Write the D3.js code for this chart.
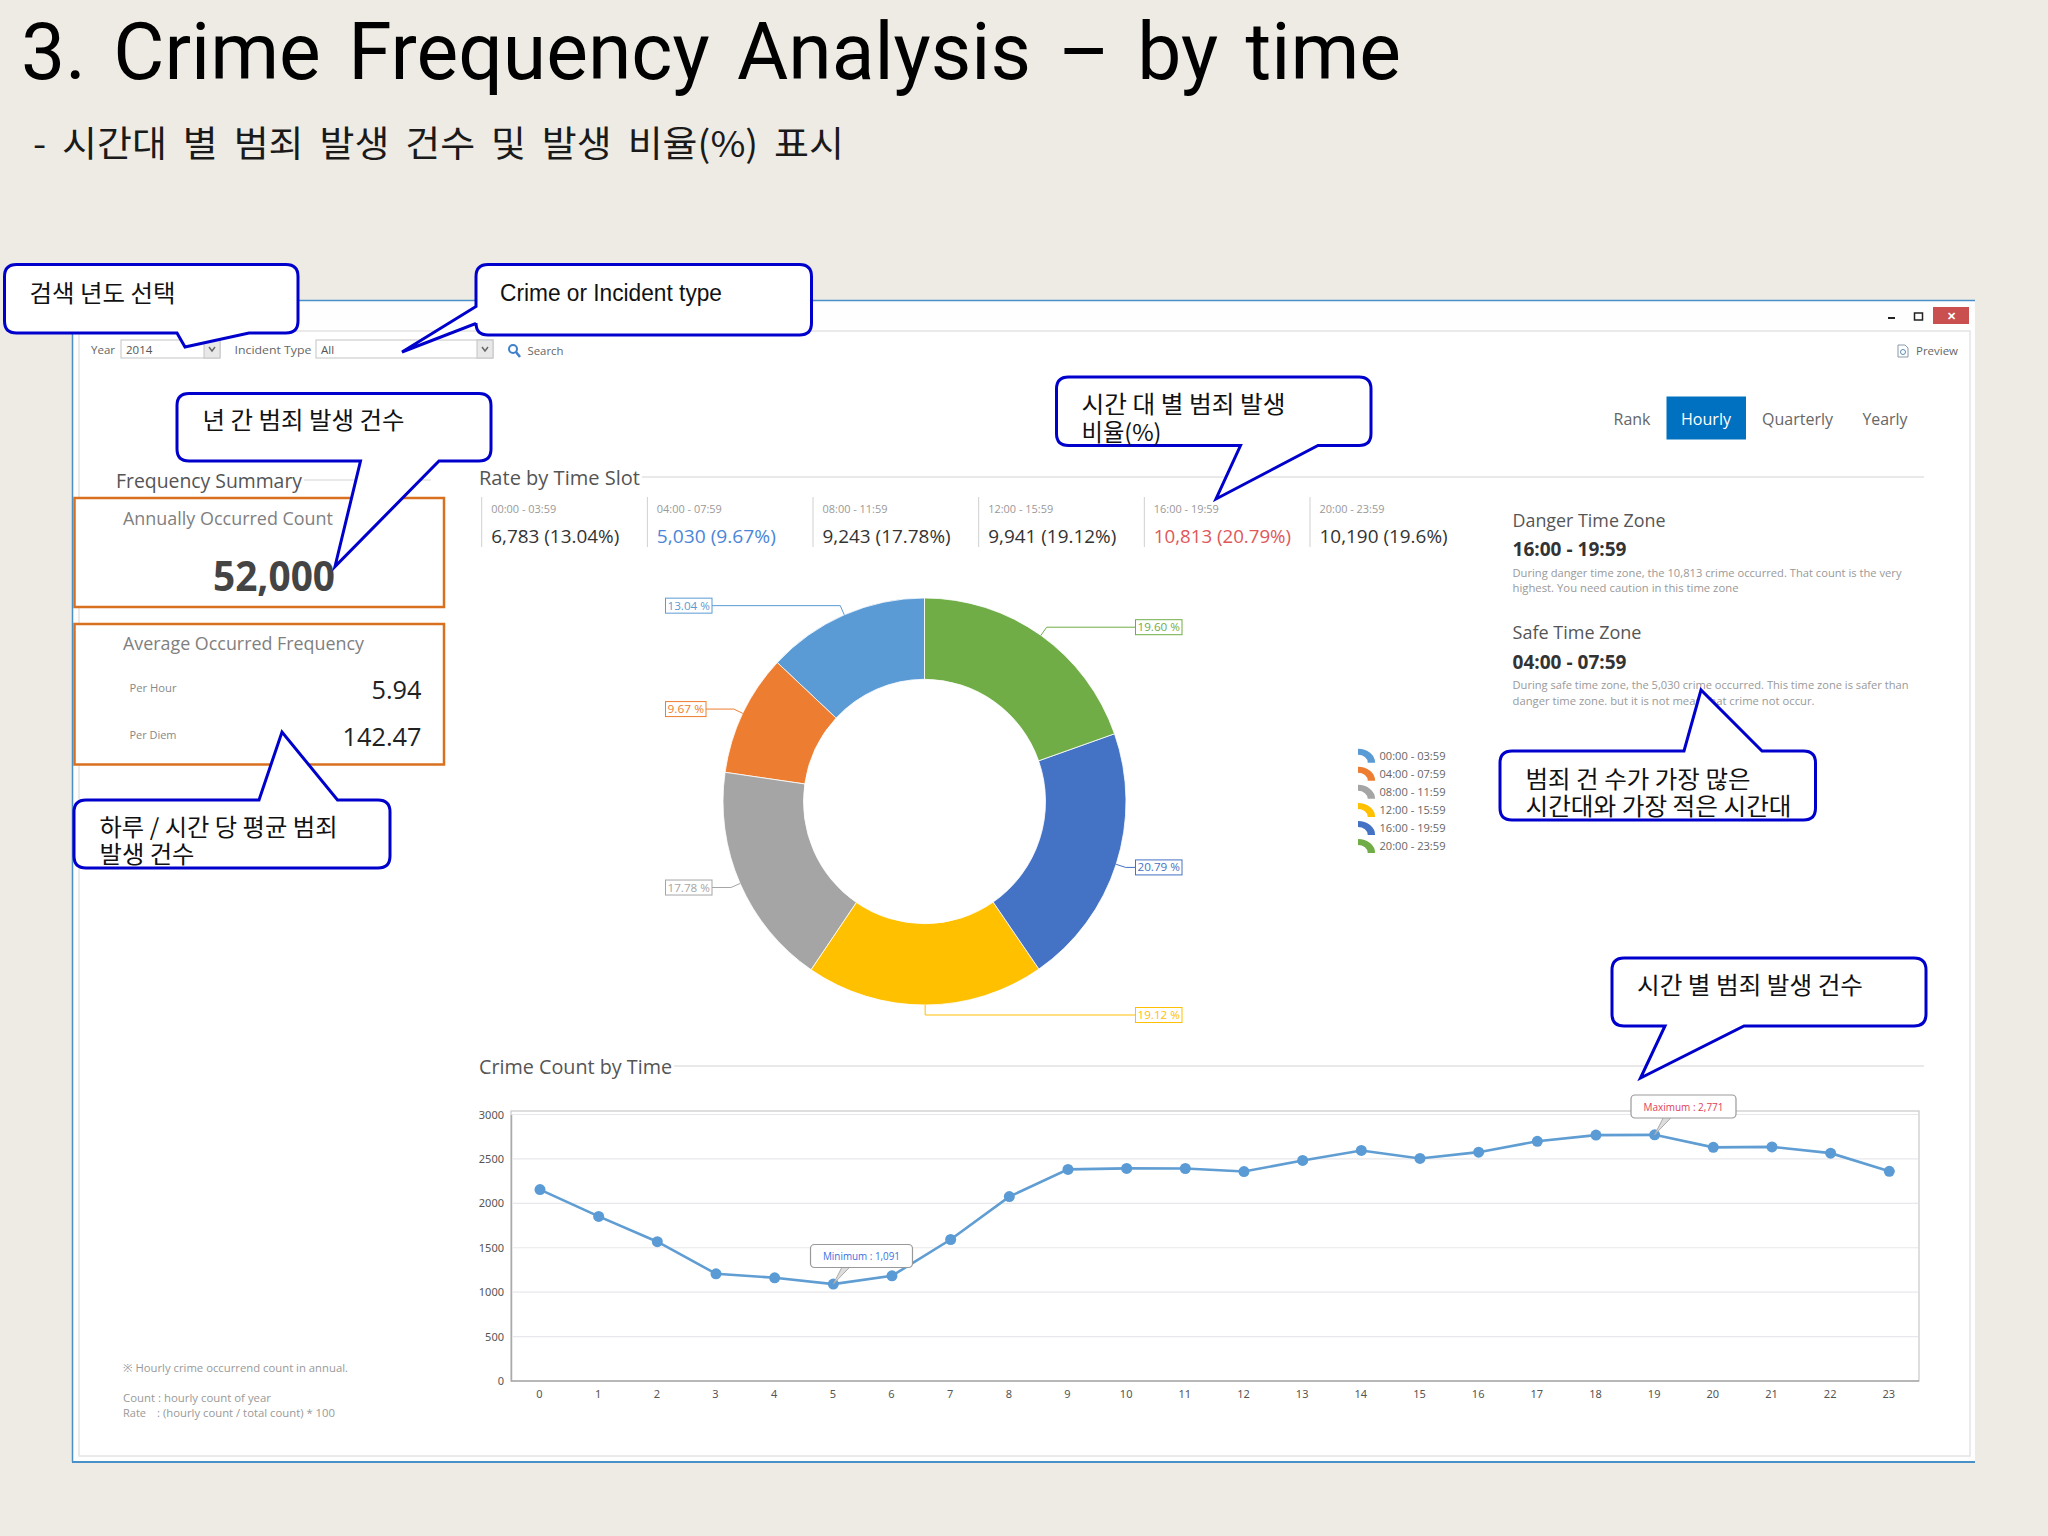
<!DOCTYPE html>
<html>
<head>
<meta charset="utf-8">
<style>
    html, body { margin: 0; padding: 0; background: #eeebe4; }
    svg { display: block; }
    text { font-family: "Open Sans", "Noto Sans", "Noto Sans CJK KR", sans-serif; }
    .ko { font-family: "Noto Sans CJK KR", sans-serif; }
    .arial { font-family: "Liberation Sans", sans-serif; }
    .slim { font-family: "Noto Sans", "Open Sans", sans-serif; }
    .head { font-family: Roboto, "Open Sans", sans-serif; }
</style>
<script src="https://cdn.jsdelivr.net/npm/d3@7/dist/d3.min.js"></script>
</head>
<body>
<svg id="chart" width="2048" height="1536"></svg>
<script>
// values
const slotLabels = ['00:00 - 03:59', '04:00 - 07:59', '08:00 - 11:59', '12:00 - 15:59', '16:00 - 19:59', '20:00 - 23:59'];
const slotCounts = [6783, 5030, 9243, 9941, 10813, 10190];
const slotRates = [13.04, 9.67, 17.78, 19.12, 20.79, 19.60];
const slotColors = ['#5b9bd5', '#ed7d31', '#a5a5a5', '#ffc000', '#4472c4', '#70ad47'];

const hours = d3.range(24);
const hourlyCounts = [2155, 1853, 1568, 1207, 1162, 1091, 1184, 1593, 2076, 2382, 2393, 2392,
    2358, 2483, 2595, 2505, 2576, 2698, 2768, 2771, 2630, 2635, 2565, 2360];
const yTicks = [0, 500, 1000, 1500, 2000, 2500, 3000];
const navItems = ['Rank', 'Hourly', 'Quarterly', 'Yearly'];

const svg = d3.select('#chart');
const fmt = d3.format(',');

function label(parent, x, y, str, opts = {}) {
    const t = parent.append('text')
        .attr('x', x)
        .attr('y', y)
        .attr('font-size', opts.size || 12)
        .attr('fill', opts.fill || '#333')
        .attr('text-anchor', opts.anchor || 'start')
        .text(str);
    if (opts.cls) t.attr('class', opts.cls);
    if (opts.weight) t.attr('font-weight', opts.weight);
    if (opts.wordGap) t.attr('word-spacing', opts.wordGap);
    if (opts.width) t.attr('textLength', opts.width).attr('lengthAdjust', 'spacingAndGlyphs');
    return t;
}

function hline(parent, x0, x1, y, color, w = 1) {
    parent.append('line').attr('x1', x0).attr('x2', x1).attr('y1', y).attr('y2', y)
        .attr('stroke', color).attr('stroke-width', w);
}

// ---- slide heading
label(svg, 21, 79, '3. Crime Frequency Analysis – by time', { size: 80, fill: '#000', cls: 'head', width: 1380, wordGap: 8 });
label(svg, 33, 157, '- 시간대 별 범죄 발생 건수 및 발생 비율(%) 표시', { size: 36, fill: '#1a1a1a', cls: 'ko', width: 811, wordGap: 7 });

// ---- application window
svg.append('rect').attr('x', 72).attr('y', 300).attr('width', 1903).attr('height', 1162).attr('fill', '#fefefe');
hline(svg, 72, 1975, 300.5, '#4a90c8', 1.5);
hline(svg, 72, 1975, 1462, '#4a90c8', 2);
svg.append('line').attr('x1', 72.5).attr('x2', 72.5).attr('y1', 300).attr('y2', 1462)
    .attr('stroke', '#4a90c8').attr('stroke-width', 1.5);
svg.append('rect').attr('x', 79).attr('y', 331).attr('width', 1891).attr('height', 1125)
    .attr('fill', '#fff').attr('stroke', '#e4e4e4').attr('stroke-width', 1.5);

svg.append('rect').attr('x', 1933).attr('y', 307).attr('width', 36).attr('height', 17).attr('fill', '#c9504f');
label(svg, 1951, 320, '✕', { size: 11, fill: '#fff', anchor: 'middle', weight: 'bold', cls: 'slim' });
svg.append('rect').attr('x', 1888).attr('y', 317).attr('width', 7).attr('height', 2).attr('fill', '#222');
svg.append('rect').attr('x', 1914.5).attr('y', 313).attr('width', 8).attr('height', 7)
    .attr('fill', 'none').attr('stroke', '#222').attr('stroke-width', 1.5);

// ---- toolbar
function combo(x0, x1, str) {
    svg.append('rect').attr('x', x0).attr('y', 340).attr('width', x1 - x0).attr('height', 18)
        .attr('fill', '#fff').attr('stroke', '#c4c4c4');
    svg.append('rect').attr('x', x1 - 16).attr('y', 340).attr('width', 16).attr('height', 18)
        .attr('fill', '#e8e8e8').attr('stroke', '#c4c4c4');
    svg.append('path').attr('d', `M${x1 - 11},347 l3,4 l3,-4`).attr('fill', 'none').attr('stroke', '#666').attr('stroke-width', 1.5);
    label(svg, x0 + 5, 354, str, { size: 11.5, fill: '#555' });
}
label(svg, 91, 354, 'Year', { size: 11.5, fill: '#666' });
combo(121, 220, '2014');
label(svg, 234.5, 354, 'Incident Type', { size: 11.5, fill: '#666', width: 77 });
combo(316, 493, 'All');
svg.append('circle').attr('cx', 513).attr('cy', 349).attr('r', 4).attr('fill', 'none').attr('stroke', '#3f80c8').attr('stroke-width', 2);
svg.append('line').attr('x1', 516).attr('y1', 352).attr('x2', 520).attr('y2', 357).attr('stroke', '#3f80c8').attr('stroke-width', 2.5);
label(svg, 527.5, 355, 'Search', { size: 11.5, fill: '#666', width: 36 });
svg.append('path').attr('d', 'M1898,345 h7 l3,3 v9 h-10 z').attr('fill', '#fff').attr('stroke', '#8a9aa8');
svg.append('circle').attr('cx', 1903).attr('cy', 352).attr('r', 2.5).attr('fill', 'none').attr('stroke', '#5a8ab8');
label(svg, 1916, 355, 'Preview', { size: 11.5, fill: '#666', width: 42 });

// ---- section headings
function section(str, x, base, w, lineEnd) {
    label(svg, x, base, str, { size: 20, fill: '#555', width: w });
    hline(svg, x + w + 2, lineEnd, base - 8, '#e2e2e2', 1.5);
}
section('Frequency Summary', 116, 488, 186, 431);
section('Rate by Time Slot', 479, 485, 161, 1924);
section('Crime Count by Time', 479, 1074, 193, 1924);

// ---- frequency summary
const orange = '#d9701f';
svg.append('rect').attr('x', 74.5).attr('y', 498).attr('width', 369.5).attr('height', 109)
    .attr('fill', '#fff').attr('stroke', orange).attr('stroke-width', 2.5);
svg.append('rect').attr('x', 74.5).attr('y', 624).attr('width', 369.5).attr('height', 140.5)
    .attr('fill', '#fff').attr('stroke', orange).attr('stroke-width', 2.5);
const total = d3.sum(slotCounts);
label(svg, 123, 525, 'Annually Occurred Count', { size: 18.5, fill: '#808080', width: 210 });
label(svg, 335, 591, fmt(total), { size: 41, fill: '#444', weight: 'bold', anchor: 'end', width: 122 });
label(svg, 123, 650, 'Average Occurred Frequency', { size: 18.5, fill: '#808080', width: 241 });
label(svg, 129.5, 692, 'Per Hour', { size: 11.5, fill: '#888', width: 47 });
label(svg, 129.5, 739, 'Per Diem', { size: 11.5, fill: '#888', width: 47 });
label(svg, 421.5, 699, (total / 8760).toFixed(2), { size: 26, fill: '#222', anchor: 'end', width: 50 });
label(svg, 421.5, 746, (total / 365).toFixed(2), { size: 26, fill: '#222', anchor: 'end', width: 79 });

// ---- time slot strip
const slotX = d3.scaleLinear().domain([0, 5]).range([481.7, 1310]);
const minSlot = d3.leastIndex(slotCounts, d => d);
const maxSlot = d3.greatestIndex(slotCounts, d => d);
slotLabels.forEach((s, i) => {
    const x = slotX(i);
    svg.append('line').attr('x1', x).attr('x2', x).attr('y1', 497).attr('y2', 547).attr('stroke', '#d0d0d0');
    label(svg, x + 9.5, 513, s, { size: 11.5, fill: '#999', width: 65 });
    const color = i === minSlot ? '#4a86d8' : (i === maxSlot ? '#e0575a' : '#333');
    const str = `${fmt(slotCounts[i])} (${slotRates[i]}%)`;
    label(svg, x + 9.5, 543, str, { size: 19, fill: color, width: str.length * 9.15 });
});

// ---- doughnut, the picture is stretched a little in height
const center = [924.5, 801.5];
const outerR = 201.5;
const innerR = 121;
const stretchY = 1.01;
const pie = d3.pie().sort(null).value(d => d).startAngle(0).endAngle(-2 * Math.PI);
const arc = d3.arc().innerRadius(innerR).outerRadius(outerR);
const donut = svg.append('g').attr('transform', `translate(${center}) scale(1,${stretchY})`);
const arcs = pie(slotRates);

donut.selectAll('path')
    .data(arcs)
    .enter()
    .append('path')
    .attr('d', arc)
    .attr('fill', (d, i) => slotColors[i])
    .attr('stroke', '#fff')
    .attr('stroke-width', 0.8);

// leader lines leave each slice at its middle angle
const labelBoxX = { left: 665.5, right: 1135.5 };
const labelG = svg.append('g');
arcs.forEach((d, i) => {
    const mid = (d.startAngle + d.endAngle) / 2;
    const ax = center[0] + outerR * Math.sin(mid);
    const ay = center[1] - outerR * stretchY * Math.cos(mid);
    const ex = center[0] + (outerR + 10) * Math.sin(mid);
    const ey = center[1] - (outerR * stretchY + 10) * Math.cos(mid);
    const left = ex < center[0];
    const str = `${slotRates[i].toFixed(2)} %`;
    const boxW = str.length > 6 ? 46.5 : 40.5;
    const boxX = left ? labelBoxX.left : labelBoxX.right;
    const lineX = left ? boxX + boxW : boxX;
    labelG.append('polyline')
        .attr('points', [[ax, ay], [ex, ey], [lineX, ey]].join(' '))
        .attr('fill', 'none')
        .attr('stroke', slotColors[i]);
    labelG.append('rect')
        .attr('x', boxX).attr('y', ey - 7.5).attr('width', boxW).attr('height', 15)
        .attr('fill', '#fff').attr('stroke', slotColors[i]);
    label(labelG, boxX + 2, ey + 4, str, { size: 11, fill: slotColors[i], width: boxW - 4 });
});

// ---- doughnut legend
const swatchArc = d3.arc().innerRadius(8).outerRadius(14).startAngle(0).endAngle(Math.PI / 2);
const legendY = d3.scaleLinear().domain([0, 5]).range([755.7, 846]);
slotLabels.forEach((s, i) => {
    svg.append('path').attr('d', swatchArc())
        .attr('transform', `translate(1358,${legendY(i) + 7}) scale(1.22,1)`)
        .attr('fill', slotColors[i]);
    label(svg, 1379.5, legendY(i) + 4, s, { size: 11.5, fill: '#666', width: 66 });
});

// ---- view switch
svg.append('rect').attr('x', 1666.5).attr('y', 396.5).attr('width', 79.5).attr('height', 43).attr('fill', '#0070c0');
const navPos = [[1613.5, 37], [1681, 50], [1762, 71], [1862.5, 45]];
navItems.forEach((n, i) => {
    label(svg, navPos[i][0], 425, n, { size: 16.5, fill: i === 1 ? '#fff' : '#666', width: navPos[i][1] });
});

// ---- danger and safe zones
const maxRange = slotLabels[maxSlot];
const minRange = slotLabels[minSlot];
label(svg, 1512.5, 527, 'Danger Time Zone', { size: 18.5, fill: '#555', width: 153 });
label(svg, 1512.5, 556, maxRange, { size: 19, fill: '#333', weight: 'bold', width: 114 });
label(svg, 1512.5, 577, `During danger time zone, the ${fmt(slotCounts[maxSlot])} crime occurred. That count is the very`, { size: 11.5, fill: '#999', width: 389 });
label(svg, 1512.5, 592, 'highest. You need caution in this time zone', { size: 11.5, fill: '#999', width: 226 });
label(svg, 1512.5, 639, 'Safe Time Zone', { size: 18.5, fill: '#555', width: 129 });
label(svg, 1512.5, 668.5, minRange, { size: 19, fill: '#333', weight: 'bold', width: 114 });
label(svg, 1512.5, 689, `During safe time zone, the ${fmt(slotCounts[minSlot])} crime occurred. This time zone is safer than`, { size: 11.5, fill: '#999', width: 396 });
label(svg, 1512.5, 704.5, 'danger time zone. but it is not mean that crime not occur.', { size: 11.5, fill: '#999', width: 302 });

// ---- line chart
const plot = { left: 511, right: 1919, top: 1111, bottom: 1381 };
const x = d3.scalePoint().domain(hours).range([540, 1889.3]);
const y = d3.scaleLinear().domain([0, 3000]).range([plot.bottom, 1114.5]);

svg.append('rect').attr('x', plot.left).attr('y', plot.top)
    .attr('width', plot.right - plot.left).attr('height', plot.bottom - plot.top)
    .attr('fill', '#fff').attr('stroke', '#c8c8c8').attr('stroke-width', 1.2);

const yAxe = d3.axisLeft(y).tickValues(yTicks).tickFormat(d3.format('d')).tickSize(0).tickPadding(7);
const xAxe = d3.axisBottom(x).tickSize(0).tickPadding(9);

svg.append('g').attr('transform', `translate(${plot.left},0)`).call(yAxe)
    .call(g => g.select('.domain').attr('stroke', '#aaa').attr('stroke-width', 1.5))
    .call(g => g.selectAll('text').attr('font-size', 11).attr('fill', '#555').style('font-family', '"Noto Sans", sans-serif'));
svg.append('g').attr('transform', `translate(-1,${plot.bottom})`).call(xAxe)
    .call(g => g.select('.domain').attr('d', `M${plot.left + 1},0H${plot.right + 1}`).attr('stroke', '#aaa').attr('stroke-width', 1.5))
    .call(g => g.selectAll('text').attr('font-size', 11).attr('fill', '#555').style('font-family', '"Noto Sans", sans-serif'));

svg.append('g').selectAll('line')
    .data(yTicks.filter(d => d > 0))
    .enter()
    .append('line')
    .attr('x1', plot.left + 1).attr('x2', plot.right - 1)
    .attr('y1', d => y(d)).attr('y2', d => y(d))
    .attr('stroke', '#e8e8ec').attr('stroke-width', 1.2);

const line = d3.line().x((d, i) => x(hours[i])).y(d => y(d));
svg.append('path').datum(hourlyCounts)
    .attr('d', line)
    .attr('fill', 'none')
    .attr('stroke', '#5f9dd3')
    .attr('stroke-width', 2.6);
svg.append('g').selectAll('circle')
    .data(hourlyCounts)
    .enter()
    .append('circle')
    .attr('cx', (d, i) => x(hours[i]))
    .attr('cy', d => y(d))
    .attr('r', 5.5)
    .attr('fill', '#5b9bd5');

// min / max tips hang off their own points
function tip(hourIdx, str, color, boxX, boxY, boxW) {
    const px = x(hours[hourIdx]);
    const py = y(hourlyCounts[hourIdx]);
    svg.append('path')
        .attr('d', `M${px},${py} L${px + 9},${boxY + 22} L${px + 17},${boxY + 22} Z`)
        .attr('fill', '#ddd').attr('stroke', '#aaa');
    svg.append('rect').attr('x', boxX).attr('y', boxY).attr('width', boxW).attr('height', 23).attr('rx', 4)
        .attr('fill', '#fff').attr('stroke', '#999').attr('stroke-width', 1.2);
    label(svg, boxX + boxW / 2, boxY + 15.5, str, { size: 10.5, fill: color, anchor: 'middle', width: boxW - 25 });
}
const minHour = d3.leastIndex(hourlyCounts, d => d);
const maxHour = d3.greatestIndex(hourlyCounts, d => d);
tip(minHour, `Minimum : ${fmt(hourlyCounts[minHour])}`, '#3b6fe0', 810.5, 1244.5, 102);
tip(maxHour, `Maximum : ${fmt(hourlyCounts[maxHour])}`, '#e0405a', 1631, 1095, 105);

// ---- foot note
label(svg, 123, 1372, '※ Hourly crime occurrend count in annual.', { size: 11.5, fill: '#999', width: 225 });
label(svg, 123, 1402, 'Count : hourly count of year', { size: 11.5, fill: '#999', width: 148 });
label(svg, 123, 1417, 'Rate', { size: 11.5, fill: '#999', width: 23 });
label(svg, 157, 1417, ': (hourly count / total count) * 100', { size: 11.5, fill: '#999', width: 178 });

// ---- callouts over everything else
function calloutPath(b, tail, side) {
    const r = 12;
    const pts = tail.map(p => p.join(',')).join(' L');
    const top = side === 'top' ? `L${pts} ` : '';
    const bottom = side === 'bottom' ? `L${pts} ` : '';
    const leftEdge = side === 'left' ? `L${pts} ` : '';
    return `M${b[0] + r},${b[1]} ${top}L${b[2] - r},${b[1]} Q${b[2]},${b[1]} ${b[2]},${b[1] + r} `
        + `L${b[2]},${b[3] - r} Q${b[2]},${b[3]} ${b[2] - r},${b[3]} ${bottom}`
        + `L${b[0] + r},${b[3]} Q${b[0]},${b[3]} ${b[0]},${b[3] - r} ${leftEdge}`
        + `L${b[0]},${b[1] + r} Q${b[0]},${b[1]} ${b[0] + r},${b[1]} Z`;
}

const callouts = [
    { box: [4.5, 264.5, 298, 333], side: 'bottom', tail: [[249, 333], [185, 347], [177, 333]],
        lines: [['검색 년도 선택', 29.5, 302, 146]] },
    { box: [476, 264.5, 811.5, 335], side: 'left', tail: [[476, 323.5], [402, 352], [476, 306.5]],
        lines: [['Crime or Incident type', 500, 301, 222]], cls: 'arial' },
    { box: [177, 393.5, 491, 461], side: 'bottom', tail: [[439, 461], [335, 566.5], [360.5, 461]],
        lines: [['년 간 범죄 발생 건수', 202.5, 429, 202]] },
    { box: [74, 800, 390, 868], side: 'top', tail: [[259, 800], [282, 732], [337.5, 800]],
        lines: [['하루 / 시간 당 평균 범죄', 99.5, 836, 238], ['발생 건수', 99.5, 863, 95]] },
    { box: [1056.5, 377, 1371, 445.5], side: 'bottom', tail: [[1318, 445.5], [1216, 499], [1240.5, 445.5]],
        lines: [['시간 대 별 범죄 발생', 1081.5, 413, 204], ['비율(%)', 1081.5, 441, 80]] },
    { box: [1500, 751, 1815.5, 820], side: 'top', tail: [[1684, 751], [1701, 690], [1762, 751]],
        lines: [['범죄 건 수가 가장 많은', 1525.5, 787.5, 225], ['시간대와 가장 적은 시간대', 1525.5, 815, 266]] },
    { box: [1612, 958, 1926, 1026], side: 'bottom', tail: [[1744, 1026], [1640.5, 1078], [1665, 1026]],
        lines: [['시간 별 범죄 발생 건수', 1637, 994, 226]] }
];

callouts.forEach((c) => {
    svg.append('path')
        .attr('d', calloutPath(c.box, c.tail, c.side))
        .attr('fill', '#fff')
        .attr('stroke', '#0000cc')
        .attr('stroke-width', 3)
        .attr('stroke-linejoin', 'miter');
    c.lines.forEach(([str, lx, ly, w]) => {
        label(svg, lx, ly, str, { size: 23.5, fill: '#111', cls: c.cls || 'ko', width: w });
    });
});
</script>
</body>
</html>
